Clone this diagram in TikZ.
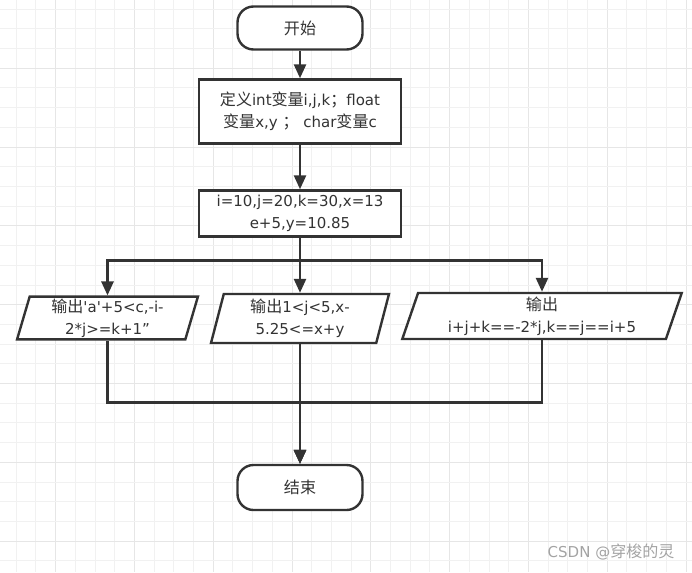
\documentclass[tikz,border=0pt]{standalone}
\usepackage{fontspec}
\setmainfont{DejaVu Sans}[Ligatures=TeXOff]
\newfontfamily\cjk{Noto Sans CJK SC}[Ligatures=TeXOff,Scale=1.07]
\newcommand{\zh}[1]{{\cjk #1}}
\usepackage{xcolor}
\definecolor{ink}{HTML}{333333}
\definecolor{gridmin}{HTML}{F1F1F1}
\definecolor{gridmaj}{HTML}{E6E6E6}
\definecolor{wmark}{HTML}{A3A3A3}
\usetikzlibrary{arrows.meta,positioning,shapes.geometric,shapes.misc}
\tikzset{
  >={Triangle[length=14pt,width=12pt]},
  term/.style  ={draw=ink,fill=white,line width=2.4pt,rounded corners=16pt,
                 minimum width=125pt,minimum height=43pt,text=ink},
  proc/.style  ={draw=ink,fill=white,line width=2.4pt,minimum width=202pt,
                 align=center,text=ink,inner sep=2pt},
  io/.style    ={draw=ink,fill=white,line width=2.4pt,trapezium,
                 trapezium stretches=true,align=center,text=ink,inner sep=2pt},
  flow/.style  ={->,draw=ink,line width=2.6pt},
  minor/.style ={draw=gridmin,line width=1pt},
  major/.style ={draw=gridmaj,line width=1pt},
}

\begin{document}
\begin{tikzpicture}[x=1pt,y=-1pt,font=\fontsize{15}{22}\selectfont]
\useasboundingbox (0,0) rectangle (692,572);
% background grid
\foreach \k in {0,...,34}
 {\pgfmathtruncatemacro{\r}{mod(\k,4)}
  \ifnum\r=2 \draw[major] (16.2+19.7*\k,0) -- (16.2+19.7*\k,572);
  \else \draw[minor] (16.2+19.7*\k,0) -- (16.2+19.7*\k,572); \fi}
\foreach \k in {0,...,28}
 {\pgfmathtruncatemacro{\r}{mod(\k,4)}
  \ifnum\r=3 \draw[major] (0,9.2+19.7*\k) -- (692,9.2+19.7*\k);
  \else \draw[minor] (0,9.2+19.7*\k) -- (692,9.2+19.7*\k); \fi}

%================= main column
\node[term] (start) at (300,28) {\zh{开始}};
\node[proc,minimum height=64pt] (def) at (300,111.5)
  {\zh{定义}int\zh{变量}i,j,k\zh{；}float\\\zh{变量}x,y \zh{；} char\zh{变量}c};
\node[proc,minimum height=46pt] (init) at (300,213.5)
  {i=10,j=20,k=30,x=13\\e+5,y=10.85};

%================= outputs
\node[io,trapezium left angle=77.6,trapezium right angle=102.4,
      minimum width=181pt,minimum height=40pt] (out1) at (107.5,318)
  {\zh{输出}'a'+5<c,-i-\\2*j>=k+1”};
\node[io,trapezium left angle=78.5,trapezium right angle=101.5,
      minimum width=178pt,minimum height=49pt] (out2) at (300,318.5)
  {\zh{输出}1<j<5,x-\\5.25<=x+y};
\node[io,trapezium left angle=74,trapezium right angle=106,
      minimum width=280pt,minimum height=46pt] (out3) at (542,316)
  {\zh{输出}\\i+j+k==-2*j,k==j==i+5};

\node[term,minimum height=45pt] (stop) at (300,487.5) {\zh{结束}};

\coordinate (fork) at (300,260.5);
\coordinate (join) at (300,402.5);

%================= connectors
\draw[flow] (start) -- (def);
\draw[flow] (def) -- (init);
\draw[flow] (init) -- (fork) -| (out1.center |- out1.top side);
\draw[flow] (fork) -- (out2.center |- out2.top side);
\draw[flow] (fork) -| (out3.center |- out3.top side);
\draw[flow] (out1.center |- out1.bottom side) |- (join) -- (stop);
\draw[flow] (out3.center |- out3.bottom side) |- (join) -- (stop);
\draw[flow] (out2.center |- out2.bottom side) -- (stop);

\node[text=wmark,anchor=east] (credit) at (678,552) {CSDN @\zh{穿梭的灵}};
\end{tikzpicture}
\end{document}
